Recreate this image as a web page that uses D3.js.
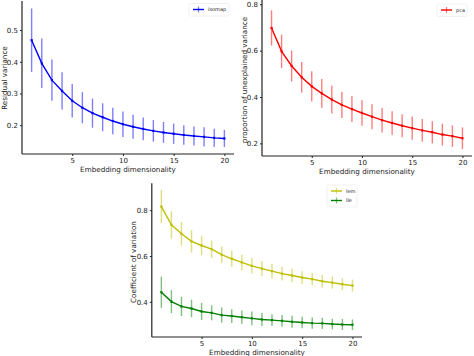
<!DOCTYPE html>
<html><head><meta charset="utf-8">
<script src="https://cdn.jsdelivr.net/npm/d3@7"></script>
<style>body{margin:0;background:#fff}svg{display:block}text{font-family:"DejaVu Sans",sans-serif;fill:#222}</style>
</head><body>
<svg id="c" width="474" height="356"></svg>
<script>
const dims = d3.range(1, 21);
const isomapMean = [0.468,0.395,0.342,0.308,0.277,0.255,0.238,0.225,0.213,0.203,0.195,0.188,0.182,0.177,0.173,0.169,0.166,0.163,0.160,0.158];
const isomapErr  = [0.100,0.078,0.065,0.059,0.053,0.049,0.046,0.044,0.042,0.040,0.038,0.036,0.034,0.033,0.032,0.031,0.030,0.030,0.029,0.027];
const pcaMean = [0.698,0.597,0.534,0.485,0.446,0.416,0.389,0.366,0.348,0.331,0.315,0.300,0.288,0.276,0.266,0.256,0.248,0.238,0.231,0.222];
const pcaErr  = [0.076,0.072,0.067,0.066,0.065,0.062,0.060,0.057,0.056,0.055,0.054,0.053,0.051,0.050,0.050,0.049,0.048,0.047,0.046,0.047];
const lemMean = [0.816,0.736,0.697,0.664,0.646,0.630,0.606,0.588,0.572,0.557,0.545,0.534,0.523,0.515,0.506,0.499,0.490,0.484,0.477,0.471];
const lemErr  = [0.072,0.060,0.052,0.049,0.042,0.038,0.036,0.035,0.034,0.033,0.032,0.031,0.030,0.029,0.028,0.027,0.027,0.026,0.026,0.026];
const lleMean = [0.442,0.401,0.380,0.371,0.358,0.352,0.342,0.338,0.333,0.328,0.323,0.320,0.317,0.313,0.310,0.307,0.306,0.303,0.301,0.300];
const lleErr  = [0.068,0.050,0.042,0.038,0.037,0.033,0.033,0.030,0.029,0.030,0.028,0.026,0.026,0.026,0.025,0.025,0.025,0.023,0.024,0.023];
const xTicks = [5, 10, 15, 20];

const svg = d3.select("#c");

function panel(o) {
  const x = d3.scaleLinear().domain([0.05, 20.95]).range([o.left, o.right]);
  const y = d3.scaleLinear().domain(o.ydom).range([o.bottom, o.top]);
  const g = svg.append("g");
  o.series.forEach(s => {
    const sg = g.append("g");
    sg.selectAll("line.err").data(dims).enter().append("line")
      .attr("x1", d => x(d)).attr("x2", d => x(d))
      .attr("y1", (d, i) => y(s.mean[i] - s.err[i]))
      .attr("y2", (d, i) => y(s.mean[i] + s.err[i]))
      .attr("stroke", s.color).attr("stroke-opacity", 0.5).attr("stroke-width", 1.4);
    sg.append("path").datum(dims)
      .attr("d", d3.line().x(d => x(d)).y((d, i) => y(s.mean[i])))
      .attr("fill", "none").attr("stroke", s.color).attr("stroke-width", 1.4);
    sg.selectAll("rect.m").data(dims).enter().append("rect")
      .attr("x", d => x(d) - 1.1).attr("y", (d, i) => y(s.mean[i]) - 1.1)
      .attr("width", 2.2).attr("height", 2.2).attr("fill", s.color);
  });
  const ax = g.append("g").attr("transform", `translate(0,${o.bottom})`)
    .call(d3.axisBottom(x).tickValues(xTicks).tickSize(2).tickPadding(2).tickFormat(d3.format("d")));
  const ay = g.append("g").attr("transform", `translate(${o.left},0)`)
    .call(d3.axisLeft(y).tickValues(o.yticks).tickSize(2).tickPadding(2).tickFormat(d3.format(".1f")));
  [ax, ay].forEach(a => {
    a.select(".domain").attr("stroke", "#222").attr("stroke-width", 1.2);
    a.selectAll(".tick line").attr("stroke", "#222");
    a.selectAll(".tick text").style("font-size", "7px").attr("fill", "#222");
  });
  ax.select(".domain").attr("d", `M${o.left},0H${o.right}`);
  ay.select(".domain").attr("d", `M0,${o.bottom}V${o.top}`);
  g.append("text").attr("x", o.xlx).attr("y", o.xly).attr("text-anchor", "middle")
    .style("font-size", "7.2px").text("Embedding dimensionality");
  g.append("text").attr("transform", `translate(${o.ylx},${o.yly}) rotate(-90)`)
    .attr("text-anchor", "middle").attr("dy", "0.35em")
    .style("font-size", "7.2px").text(o.ylabel);
  const lg = g.append("g");
  lg.append("rect").attr("x", o.leg.x - 4).attr("y", o.leg.y - 6)
    .attr("width", o.leg.w).attr("height", o.series.length * 9.5 + 3)
    .attr("fill", "#fff").attr("stroke", "#eee").attr("stroke-width", 0.8).attr("rx", 1.5);
  o.series.forEach((s, i) => {
    const ly = o.leg.y + i * 9.5;
    lg.append("line").attr("x1", o.leg.x).attr("x2", o.leg.x + 11).attr("y1", ly).attr("y2", ly)
      .attr("stroke", s.color).attr("stroke-width", 1.4);
    lg.append("line").attr("x1", o.leg.x + 5.5).attr("x2", o.leg.x + 5.5).attr("y1", ly - 3).attr("y2", ly + 3)
      .attr("stroke", s.color).attr("stroke-opacity", 0.5).attr("stroke-width", 1.2);
    lg.append("text").attr("x", o.leg.x + 15).attr("y", ly).attr("dy", "0.35em")
      .style("font-size", "5px").text(s.name);
  });
}

panel({left: 22, right: 234, top: 0.9, bottom: 154, ydom: [0.109, 0.592], yticks: [0.2, 0.3, 0.4, 0.5],
  ylabel: "Residual variance", xlx: 128, xly: 171.5, ylx: 4.6, yly: 78,
  leg: {x: 193, y: 9.5, w: 40},
  series: [{name: "isomap", mean: isomapMean, err: isomapErr, color: "#0000ff"}]});

panel({left: 262, right: 472, top: 0, bottom: 156, ydom: [0.1455, 0.8185], yticks: [0.2, 0.4, 0.6, 0.8],
  ylabel: "proportion of unexplained variance", xlx: 367, xly: 173.5, ylx: 244.5, yly: 80,
  leg: {x: 441, y: 10, w: 30},
  series: [{name: "pca", mean: pcaMean, err: pcaErr, color: "#ff0000"}]});

panel({left: 151.8, right: 362, top: 183.3, bottom: 337, ydom: [0.2465, 0.9175], yticks: [0.4, 0.6, 0.8],
  ylabel: "Coefficient of variation", xlx: 257, xly: 354.5, ylx: 133.5, yly: 262,
  leg: {x: 331, y: 191, w: 30},
  series: [{name: "lem", mean: lemMean, err: lemErr, color: "#bfbf00"},
           {name: "lle", mean: lleMean, err: lleErr, color: "#008000"}]});
</script>
</body></html>
